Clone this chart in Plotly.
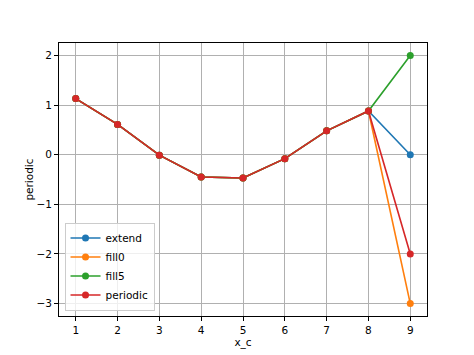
import plotly.graph_objects as go

x_c = [1, 2, 3, 4, 5, 6, 7, 8, 9]
base = [1.13, 0.61, -0.01, -0.45, -0.47, -0.08, 0.48, 0.88]
extend = base + [0.0]
fill0 = base + [-3.0]
fill5 = base + [2.0]
periodic = base + [-2.0]

series = [("extend", extend, "#1f77b4"), ("fill0", fill0, "#ff7f0e"),
          ("fill5", fill5, "#2ca02c"), ("periodic", periodic, "#d62728")]

fig = go.Figure()
for name, ys, col in series:
    fig.add_trace(go.Scatter(x=x_c, y=ys, name=name, mode="lines+markers",
                             line=dict(color=col, width=1.6),
                             marker=dict(color=col, size=7)))

axis_common = dict(showline=True, linecolor="black", linewidth=1, mirror=True,
                   ticks="outside", ticklen=4, tickcolor="black",
                   showgrid=True, gridcolor="#b0b0b0", gridwidth=0.8,
                   zeroline=False, automargin=False,
                   tickfont=dict(size=10.5, color="black"))

fig.update_layout(
    width=474, height=355,
    margin=dict(l=59, r=47, t=43, b=39),
    paper_bgcolor="white", plot_bgcolor="white",
    font=dict(family="DejaVu Sans", size=10.5, color="black"),
    xaxis=dict(range=[0.6, 9.4], tickvals=x_c, title=dict(text="x_c", standoff=4, font=dict(size=10.5)), **axis_common),
    yaxis=dict(range=[-3.25, 2.25], tickvals=[-3, -2, -1, 0, 1, 2],
               ticktext=["\u22123", "\u22122", "\u22121", "0", "1", "2"],
               title=dict(text="periodic", standoff=0, font=dict(size=10.5)), **axis_common),
    legend=dict(x=0.015, y=0.02, xanchor="left", yanchor="bottom",
                bgcolor="rgba(255,255,255,0.8)", bordercolor="#cccccc", borderwidth=1,
                font=dict(size=10.5), tracegroupgap=0, itemwidth=30),
    showlegend=True,
)

fig.write_html("out.html")
